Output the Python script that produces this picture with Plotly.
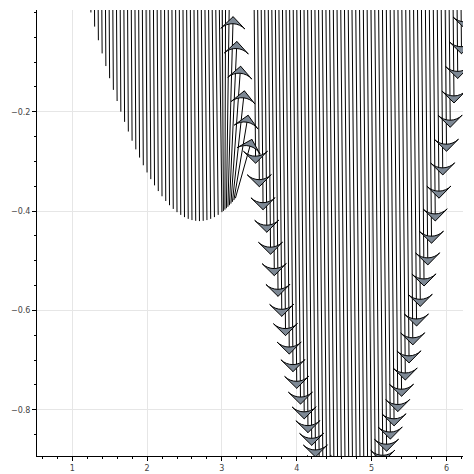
import numpy as np
import plotly.graph_objects as go

# arrow heads sit on y = sin(x)
head_x = np.arange(0.05, 6.28, 0.05)
head_y = np.sin(head_x)

# tails: left group below the heads on a bowl (min about (2.7, -0.42)),
# right group well above the top of the view
left = head_x < 3.45
fan = np.clip((head_x - 2.95) / 0.5, 0, 1)
tail_x = np.where(left, head_x + 0.05 - 0.3 * fan, head_x - 0.1)
bowl = -0.42 * (1 - ((tail_x - 2.7) / 1.45) ** 2)
tail_y = np.where(left, bowl, head_y + 1.6)

x_ticks = [1, 2, 3, 4, 5, 6]
y_ticks = [-0.8, -0.6, -0.4, -0.2]

lx, ly = [], []
for x0, y0, x1, y1 in zip(tail_x, tail_y, head_x, head_y):
    lx += [x0, x1, None]
    ly += [y0, y1, None]

# heading of each arrow in screen space (deg, clockwise from up)
px_x, px_y = 75.0, 495.0
ang = np.degrees(np.arctan2((head_x - tail_x) * px_x, (head_y - tail_y) * px_y))

fig = go.Figure()
fig.add_trace(go.Scatter(x=lx, y=ly, mode="lines",
                         line=dict(color="black", width=1), hoverinfo="skip"))
fig.add_trace(go.Scatter(x=head_x, y=head_y, mode="markers",
                         marker=dict(symbol="arrow-wide", size=17, angle=ang,
                                     color="#7d8894",
                                     line=dict(color="black", width=1))))

axis = dict(showline=True, linecolor="black", linewidth=1, ticks="outside",
            ticklen=4, tickcolor="black", gridcolor="#e6e6e6", zeroline=False,
            automargin=False,
            tickfont=dict(family="DejaVu Sans", size=8, color="#444"),
            minor=dict(ticks="outside", ticklen=2, tickcolor="black", showgrid=False))
fig.update_layout(
    width=474, height=474, showlegend=False,
    plot_bgcolor="white", paper_bgcolor="white",
    margin=dict(l=29, r=19, t=2, b=26),
    xaxis=dict(range=[0.53, 6.22], tickvals=x_ticks, **axis),
    yaxis=dict(range=[-0.893, 0.005], tickvals=y_ticks, **axis),
)
fig.update_xaxes(minor_dtick=0.2)
fig.update_yaxes(minor_dtick=0.05)
fig.write_html("out.html")
